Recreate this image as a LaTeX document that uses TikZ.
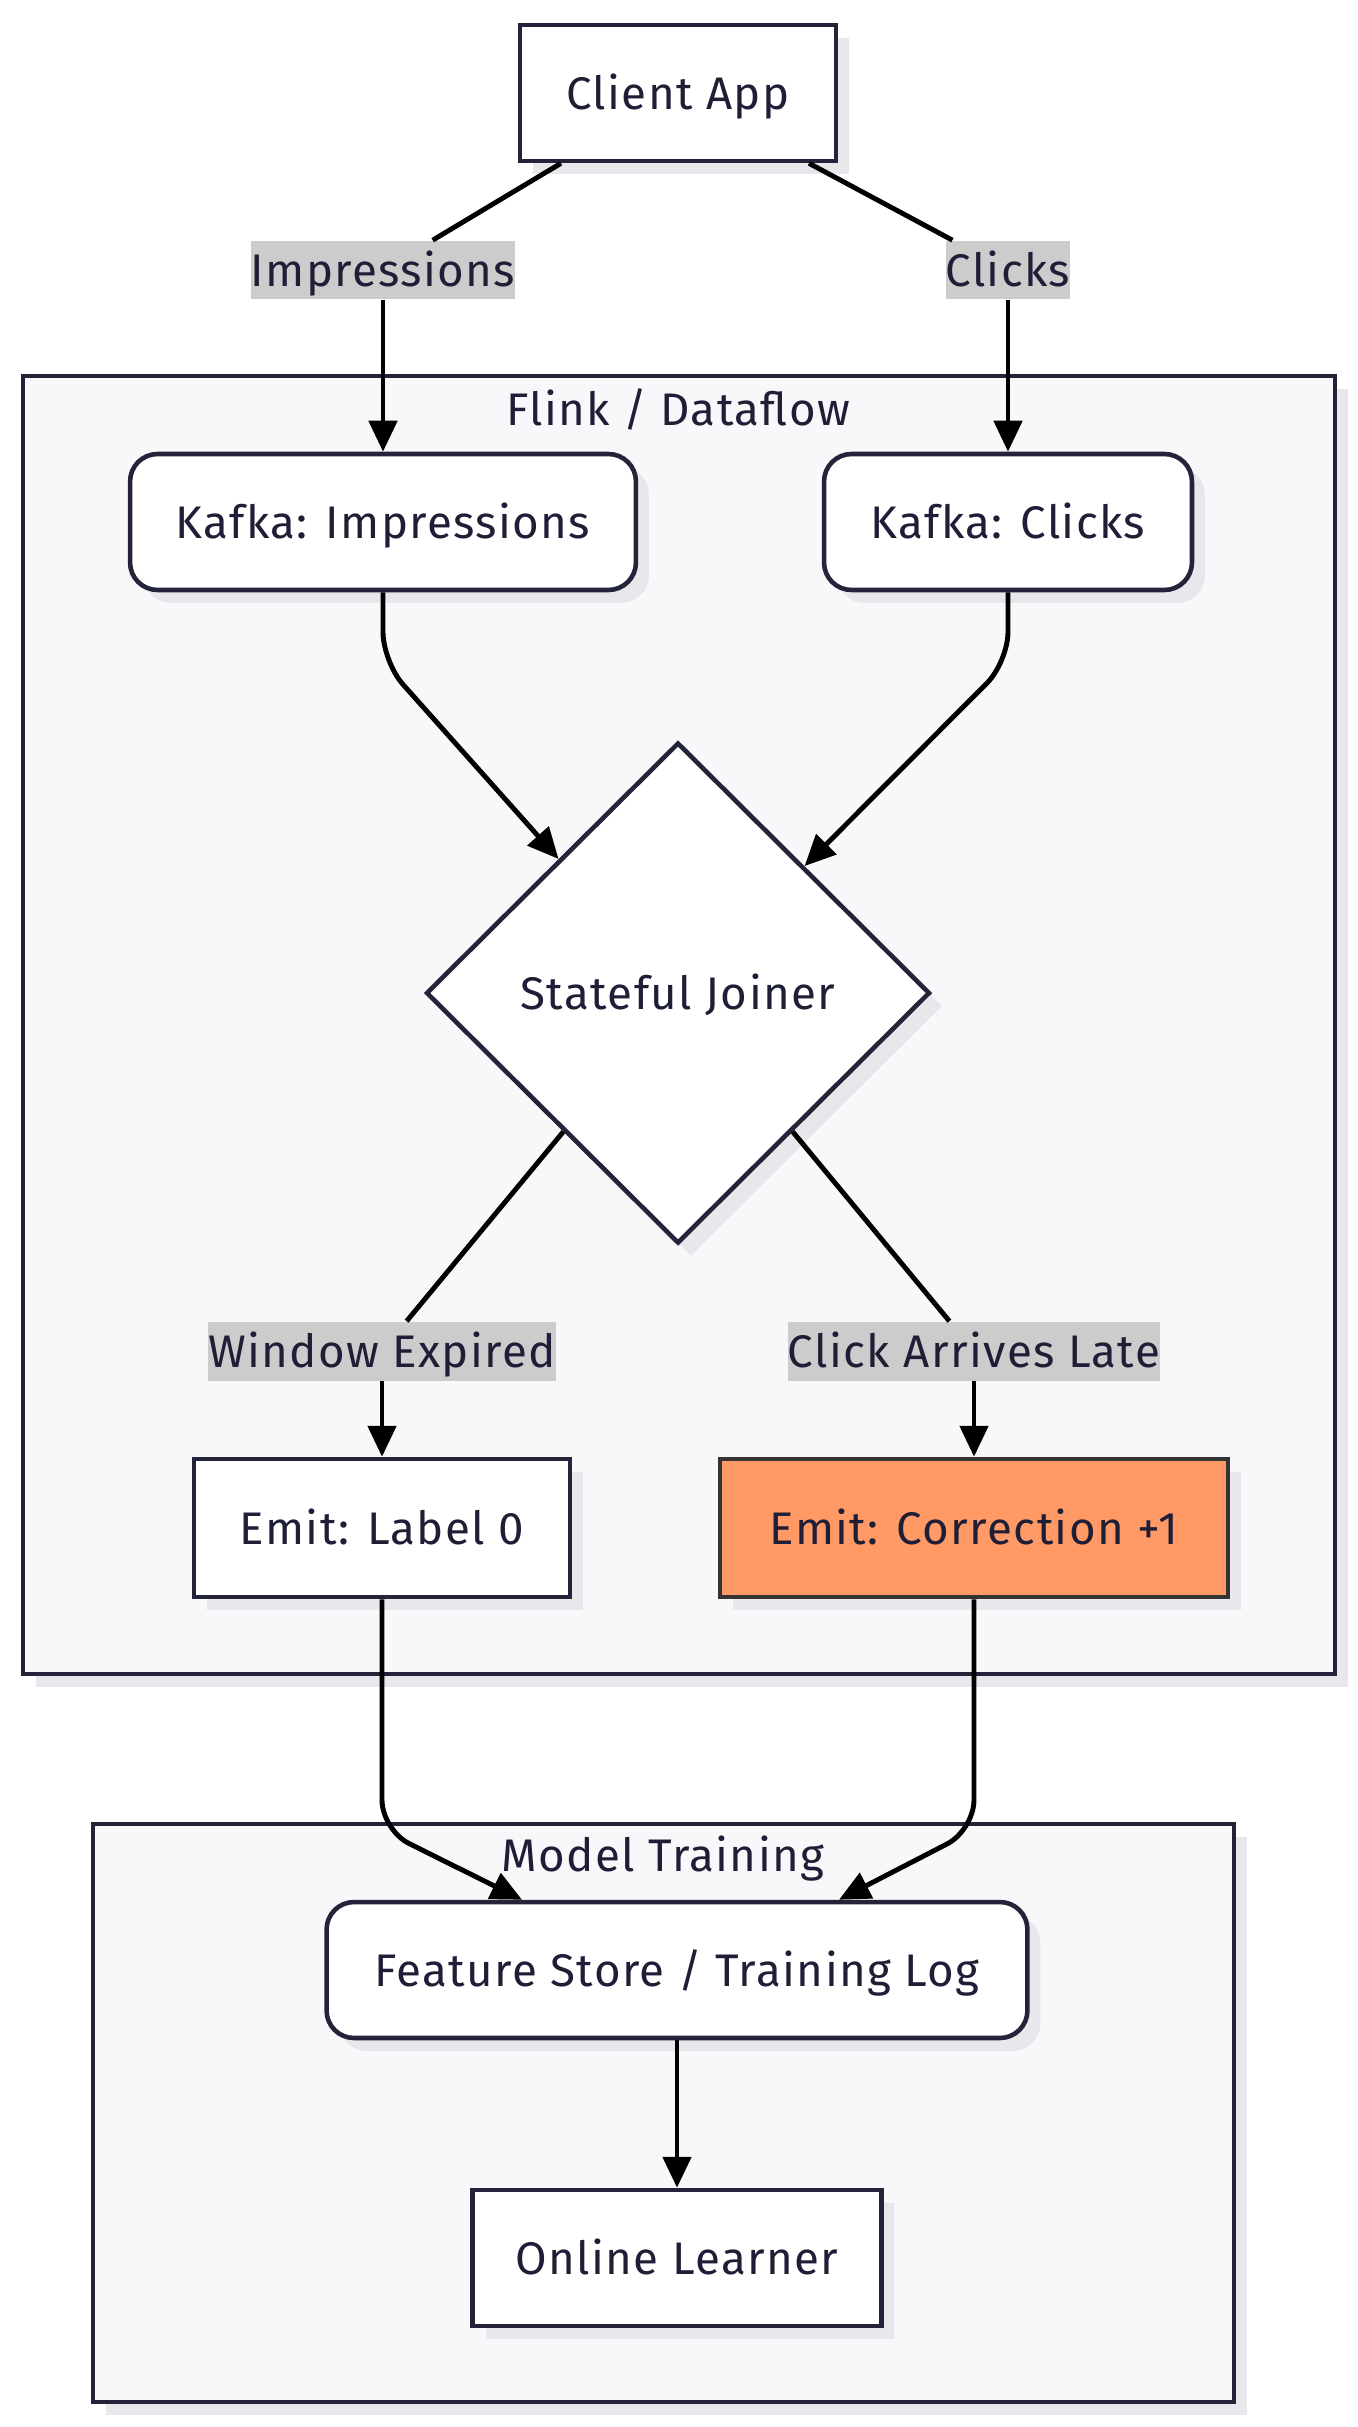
\documentclass[tikz,border=0pt]{standalone}
\usepackage{fontspec}
\setmainfont[LetterSpace=3]{Fira Sans}
\usetikzlibrary{shapes.geometric,arrows.meta,shadows}
\definecolor{ink}{RGB}{30,30,55}
\definecolor{rim}{RGB}{35,35,58}
\definecolor{groupfill}{RGB}{248,248,250}
\definecolor{tagfill}{RGB}{204,204,204}
\definecolor{lategold}{RGB}{255,153,102}
\definecolor{shadowgray}{RGB}{232,232,236}

\begin{document}
\begin{tikzpicture}[x=0.02cm,y=-0.02cm,
    font=\fontsize{26}{31}\selectfont, text=ink,
    every node/.style={text height=24pt,text depth=5pt},
    lift/.style={drop shadow={shadow xshift=0.26cm,shadow yshift=-0.26cm,fill=shadowgray,opacity=1}},
    box/.style={draw=rim,line width=2.6pt,fill=white,minimum height=2.72cm,lift},
    soft/.style={box,rounded corners=0.55cm},
    tag/.style={fill=tagfill,inner xsep=0pt,inner ysep=0pt,minimum height=1.18cm},
    group/.style={draw=rim,line width=2.6pt,fill=groupfill,lift},
    link/.style={line width=2.8pt},
    flow/.style={link,-{Triangle[length=0.62cm,width=0.56cm]}}]
    \useasboundingbox (0,0) rectangle (1358,2427);
    % clusters
    \draw[group] (23,376) rectangle (1335,1674);
    \draw[group] (93,1824) rectangle (1234,2402);
    \node (flinktitle) at (678,409) {Flink / Dataflow};
    \node (traintitle) at (663,1855) {Model Training};
    % nodes
    \node[box,minimum width=6.32cm] (client) at (678,93) {Client App};
    \node[soft,minimum width=10.12cm] (kimp) at (383,522) {Kafka: Impressions};
    \node[soft,minimum width=7.36cm] (kclick) at (1008,522) {Kafka: Clicks};
    \node[box,diamond,minimum width=10.08cm,minimum height=10.02cm,inner sep=0pt] (join) at (678,993) {Stateful Joiner};
    \node[box,minimum width=7.52cm,minimum height=2.76cm] (elbl) at (382,1528) {Emit: Label 0};
    \node[box,draw={rgb,255:red,51;green,51;blue,51},fill=lategold,minimum width=10.16cm,minimum height=2.76cm] (ecorr) at (974,1528) {Emit: Correction +1};
    \node[soft,minimum width=14.02cm] (fstore) at (677,1970) {Feature Store / Training Log};
    \node[box,minimum width=8.18cm] (learner) at (677,2258) {Online Learner};
    % edge labels
    \node[tag] (implbl) at (383,270) {Impressions};
    \node[tag] (clklbl) at (1008,270) {Clicks};
    \node[tag] (wexp) at (382,1351) {Window Expired};
    \node[tag] (late) at (974,1351) {Click Arrives Late};
    % edges
    \draw[link] (client) -- (implbl);
    \draw[flow] (implbl) -- (kimp);
    \draw[link] (client) -- (clklbl);
    \draw[flow] (clklbl) -- (kclick);
    \draw[flow,rounded corners=0.6cm] (kimp) -- ++(0,140) -- (join);
    \draw[flow,rounded corners=0.6cm] (kclick) -- ++(0,140) -- (join);
    \draw[link] (join) -- (wexp);
    \draw[flow] (wexp) -- (elbl);
    \draw[link] (join) -- (late);
    \draw[flow] (late) -- (ecorr);
    \draw[flow,rounded corners=0.6cm] (elbl) -- ++(0,302) -- ([shift={(-155,0)}]fstore.north);
    \draw[flow,rounded corners=0.6cm] (ecorr) -- ++(0,302) -- ([shift={(162,0)}]fstore.north);
    \draw[flow] (fstore) -- (learner);
\end{tikzpicture}
\end{document}
